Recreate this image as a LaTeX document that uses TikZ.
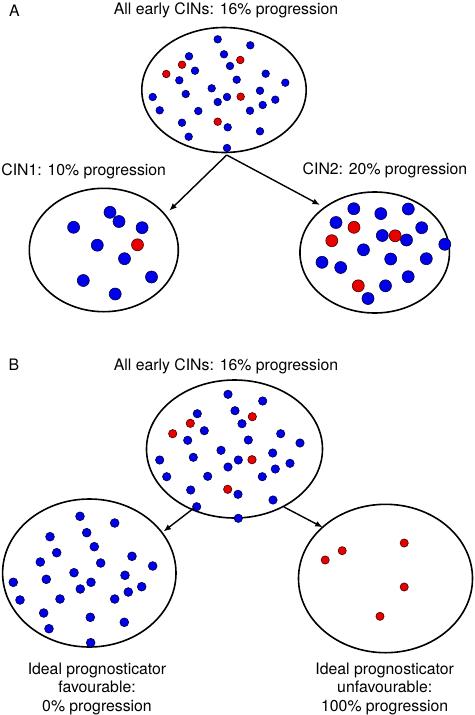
\documentclass[tikz,border=0pt]{standalone}
\usepackage{fontspec}
\setmainfont{TeX Gyre Heros}
\usetikzlibrary{arrows.meta,shapes.geometric}
\definecolor{dotblue}{RGB}{0,0,235}
\definecolor{dotred}{RGB}{235,0,0}
\begin{document}
\begin{tikzpicture}[x=1pt,y=-1pt,
  ell/.style={draw, ellipse, line width=1.6pt, inner sep=0pt, outer sep=0pt},
  bdot/.style={fill=dotblue, draw=black!75!blue, line width=0.6pt},
  rdot/.style={fill=dotred, draw=black!75!red, line width=0.6pt},
  arr/.style={-{Latex[length=7.5pt,width=6pt]}, line width=1.4pt},
  lbl/.style={font=\fontsize{15.8}{19}\selectfont, inner sep=0pt, anchor=base},
  ]
\useasboundingbox (0,0) rectangle (474,715);

% ---------- Panel A ----------
\node[lbl] (labA) at (14.5,16) {A};
\node[lbl] (titleA) at (226,14) {All early CINs: 16\% progression};
\node[ell, minimum width=164.4pt, minimum height=125pt] (topA) at (224,90) {};
\node[ell, minimum width=149pt, minimum height=123.4pt] (leftA) at (103.8,250) {};
\node[ell, minimum width=149.5pt, minimum height=121pt] (rightA) at (374.7,252.5) {};
\node[lbl] (cin1) at (83.7,175.7) {CIN1: 10\% progression};
\node[lbl] (cin2) at (385,174) {CIN2: 20\% progression};

\foreach \x/\y in {217.7/39.3,250.3/45.3,189/56.3,224/54.3,230/66,195/70.7,179.3/80.3,265.7/73.7,236.7/79.7,285.3/82.7,211.7/88.3,185.7/94,260/90.7,152.7/97,227/97,217.7/102,275.3/99.7,262.7/105,159.7/110.3,198.3/111,250/110.7,182/122.7,227.7/127.3,260/131.3,188.7/136.7,227/148}
  \draw[bdot] (\x,\y) circle[radius=3.8pt];
\foreach \x/\y in {182/64.7,166.3/74,240.3/60,240.7/96.7,217.7/121.7}
  \draw[rdot] (\x,\y) circle[radius=3.8pt];

\foreach \x/\y in {110/212.3,119/221.5,73.6/227.3,142.1/227.7,97.3/245.2,124.5/258.7,83.3/280.5,151.5/277,115.2/294}
  \draw[bdot] (\x,\y) circle[radius=6pt];
\draw[rdot] (137.5,244.8) circle[radius=6pt];

\foreach \x/\y in {353.8/208.7,408.3/209,380.8/213.6,336/222.5,421.7/227.7,382.3/235.5,406.5/240,444.8/244.3,363.5/249.8,322/262.3,340.7/267.5,390.7/259,426.3/258.7,408.2/276.7,385.5/285.8,368/298.5}
  \draw[bdot] (\x,\y) circle[radius=6pt];
\foreach \x/\y in {354/227.3,331.8/240.7,395.2/235.8,358.3/285.8}
  \draw[rdot] (\x,\y) circle[radius=6pt];

\coordinate (srcA) at (226.7,155);
\coordinate (tipAL) at (169.3,210.7);
\coordinate (tipAR) at (320,205);
\draw[arr] (srcA) -- (tipAL);
\draw[arr] (srcA) -- (tipAR);

% ---------- Panel B ----------
\node[lbl] (labB) at (13.8,370.5) {B};
\node[lbl] (titleB) at (226,370) {All early CINs: 16\% progression};
\node[ell, minimum width=176pt, minimum height=138pt] (topB) at (234.5,449) {};
\node[ell, minimum width=173.4pt, minimum height=148pt] (leftB) at (89.3,573) {};
\node[ell, minimum width=174pt, minimum height=148.4pt] (rightB) at (385.5,578.5) {};

\foreach \x/\y in {228/394.3,262.7/401,197.3/413.7,235/410.7,242/423.7,204.3/430.7,187.7/440.3,280.7/433.7,248.3/440,300/443,221/450.3,193.3/457.3,272.7/453,159.7/460,238.3/460,228/467,290/463.3,275.3/469,166.7/476.7,207.7/476.3,262.3/476.7,190.7/490,238/494.3,273/500,196.7/506.7,238.3/518.3}
  \draw[bdot] (\x,\y) circle[radius=4.2pt];
\foreach \x/\y in {190.3/423.3,172.7/433.7,252.3/416.7,252/459.7,227.7/489.3}
  \draw[rdot] (\x,\y) circle[radius=4.2pt];

\foreach \x/\y in {80/516.3,114.7/523,50/536.7,86.7/532.7,94.3/546.7,56.7/552.7,132/556.3,40.3/562,100.7/563,152.7/566,74/572.7,13.3/582.3,46.3/579.3,125/575.3,91/582.3,80.3/589,141.7/586.7,128.3/592,20/600,60/599,114.7/599,43.7/613,90.3/617.3,124.3/622.3,49/628.7,90.7/642.7}
  \draw[bdot] (\x,\y) circle[radius=4.4pt];

\foreach \x/\y in {342.2/550.7,325.2/560,404.2/543,404.2/587,380/616.3}
  \draw[rdot] (\x,\y) circle[radius=4.1pt];

\coordinate (srcBL) at (194,508);
\coordinate (tipBL) at (163.5,531.5);
\coordinate (srcBR) at (284,507);
\coordinate (tipBR) at (322.7,527.3);
\draw[arr] (srcBL) -- (tipBL);
\draw[arr] (srcBR) -- (tipBR);

\node[lbl] (fav1) at (97,674) {Ideal prognosticator};
\node[lbl] (fav2) at (97,692.7) {favourable:};
\node[lbl] (fav3) at (97,711.7) {0\% progression};
\node[lbl] (unf1) at (384.7,674) {Ideal prognosticator};
\node[lbl] (unf2) at (384.7,692.7) {unfavourable:};
\node[lbl] (unf3) at (384.7,711.7) {100\% progression};
\end{tikzpicture}
\end{document}
